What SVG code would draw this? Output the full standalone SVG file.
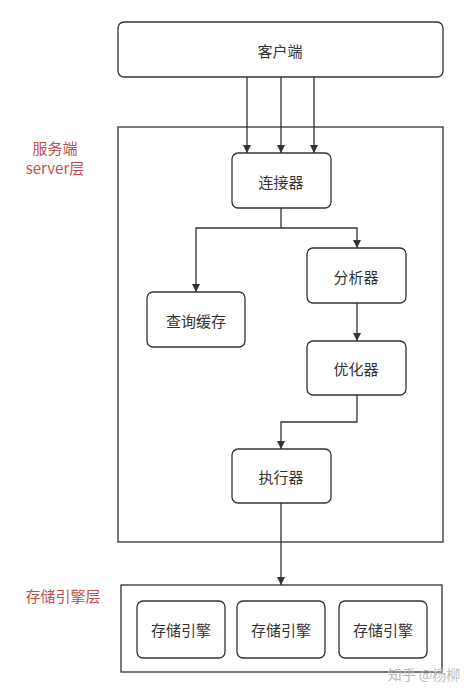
<svg xmlns="http://www.w3.org/2000/svg" width="474" height="691" viewBox="0 0 474 691">
<defs>
<style>
.n{fill:#fff;stroke:#333;stroke-width:1.3}
.t{font-family:"Noto Sans CJK SC","Liberation Sans",sans-serif;font-size:15px;fill:#333;text-anchor:middle;dominant-baseline:central}
.r{font-family:"Noto Sans CJK SC","Liberation Sans",sans-serif;font-size:15px;fill:#c0504d;text-anchor:middle;dominant-baseline:central}
.c{fill:none;stroke:#333;stroke-width:1.3}
</style>
<marker id="a" viewBox="0 0 10 10" refX="10" refY="5" markerWidth="8" markerHeight="8" markerUnits="userSpaceOnUse" orient="auto">
<path d="M0,0 L10,5 L0,10 Z" fill="#333"/>
</marker>
</defs>
<rect width="474" height="691" fill="#fff"/>
<g id="server-layer">
<rect x="118" y="127" width="325" height="415" fill="#fff" stroke="#333" stroke-width="1.3"/>
<text class="r" x="55" y="147">服务端</text>
<text class="r" x="55" y="167">server层</text>
</g>
<g id="storage-layer">
<rect x="121" y="585" width="321" height="87" fill="#fff" stroke="#333" stroke-width="1.3"/>
<text class="r" x="63" y="595">存储引擎层</text>
</g>
<g id="client"><rect class="n" x="118" y="22" width="325" height="55" rx="6"/><text class="t" x="280" y="50">客户端</text></g>
<g id="connector"><rect class="n" x="232" y="153" width="99" height="55" rx="6"/><text class="t" x="281" y="181">连接器</text></g>
<g id="cache"><rect class="n" x="147" y="292" width="98" height="55" rx="6"/><text class="t" x="196" y="320">查询缓存</text></g>
<g id="analyzer"><rect class="n" x="307" y="248" width="99" height="55" rx="6"/><text class="t" x="356" y="276">分析器</text></g>
<g id="optimizer"><rect class="n" x="307" y="341" width="99" height="54" rx="6"/><text class="t" x="356" y="368">优化器</text></g>
<g id="executor"><rect class="n" x="232" y="449" width="99" height="54" rx="6"/><text class="t" x="281" y="476">执行器</text></g>
<g id="engine1"><rect class="n" x="137" y="601" width="88" height="57" rx="6"/><text class="t" x="181" y="629">存储引擎</text></g>
<g id="engine2"><rect class="n" x="237" y="601" width="88" height="57" rx="6"/><text class="t" x="281" y="629">存储引擎</text></g>
<g id="engine3"><rect class="n" x="339" y="601" width="88" height="57" rx="6"/><text class="t" x="383" y="629">存储引擎</text></g>
<g id="connectors">
<path class="c" d="M247,77 V153" marker-end="url(#a)"/>
<path class="c" d="M281,77 V153" marker-end="url(#a)"/>
<path class="c" d="M314,77 V153" marker-end="url(#a)"/>
<path class="c" d="M281,208 V228 H196 V292" marker-end="url(#a)"/>
<path class="c" d="M281,228 H357 V248" marker-end="url(#a)"/>
<path class="c" d="M357,303 V341" marker-end="url(#a)"/>
<path class="c" d="M357,395 V422 H281 V449" marker-end="url(#a)"/>
<path class="c" d="M281,503 V585" marker-end="url(#a)"/>
</g>
<text x="424" y="674" font-family="Noto Sans CJK SC,Liberation Sans,sans-serif" font-size="14" fill="#bbb" text-anchor="middle" dominant-baseline="central">知乎 @杨柳</text>
</svg>
